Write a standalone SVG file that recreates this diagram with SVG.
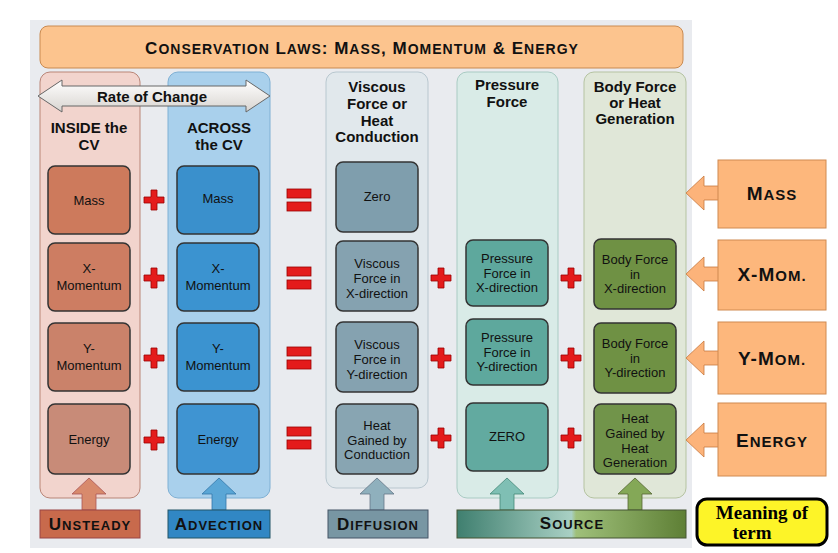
<svg xmlns="http://www.w3.org/2000/svg" width="838" height="553" viewBox="0 0 838 553">
<defs>
<style>
text{font-family:"Liberation Sans",Arial,sans-serif;text-anchor:middle}
.h{font-weight:bold;font-size:15px;fill:#111}
.b{font-size:13px;fill:#111}
.bx{stroke:#333;stroke-width:1.5}
.cap{font-weight:bold;fill:#111;letter-spacing:1px}
.mt{font-family:"Liberation Serif","Times New Roman",serif;font-weight:bold;font-size:19px}
</style>
<linearGradient id="src" x1="0" x2="1"><stop offset="0" stop-color="#3f7f6f"/><stop offset="0.5" stop-color="#a9d0c4"/><stop offset="0.52" stop-color="#9fc07a"/><stop offset="1" stop-color="#5e7f35"/></linearGradient>
<linearGradient id="roc" x1="0" y1="0" x2="0" y2="1"><stop offset="0" stop-color="#fff"/><stop offset="1" stop-color="#d8d4d0"/></linearGradient>
<path id="plus" d="M-3,-10h6v7h7v6h-7v7h-6v-7h-7v-6h7z"/>
<g id="eq"><rect x="-12" y="-11" width="24" height="9" fill="#e41b1b" stroke="#900"/><rect x="-12" y="2" width="24" height="9" fill="#e41b1b" stroke="#900"/></g>
<path id="up" d="M0,0 L17,16 L7,16 L7,32 L-7,32 L-7,16 L-17,16 Z"/>
<path id="left" d="M0,0 L18,-17 V-7 H34 V7 H18 V17 Z" fill="#fcb37a" stroke="#c87a40"/>
</defs>
<rect x="30" y="20" width="662" height="528" fill="#e9ebef"/>
<g id="title"><rect x="40" y="26" width="643" height="42" rx="8" fill="#fcc48e" stroke="#c98a50"/>
<text x="362" y="54" class="cap" font-size="17">C<tspan font-size="14">ONSERVATION</tspan> L<tspan font-size="14">AWS</tspan>: M<tspan font-size="14">ASS</tspan>, M<tspan font-size="14">OMENTUM</tspan> &amp; E<tspan font-size="14">NERGY</tspan></text></g>
<g id="columns">
<rect x="40" y="72" width="100" height="426" rx="10" fill="#f2d4cd" stroke="#b98577"/>
<rect x="168" y="72" width="102" height="426" rx="10" fill="#a9d0ec" stroke="#7fb0d4"/>
<rect x="326" y="72" width="102" height="416" rx="10" fill="#e1e8ec" stroke="#b8c7cf"/>
<rect x="457" y="72" width="101" height="426" rx="10" fill="#d9ebe7" stroke="#a9cbc3"/>
<rect x="584" y="72" width="102" height="426" rx="10" fill="#e0e7d8" stroke="#b5c3a1"/>
</g>
<g id="rate"><path d="M38,96 L62,80 L62,86 L246,86 L246,80 L270,96 L246,112 L246,106 L62,106 L62,112 Z" fill="url(#roc)" stroke="#666"/>
<text x="152" y="102" class="h" font-size="16">Rate of Change</text></g>
<g id="headers">
<text class="h" x="89" y="133">INSIDE the</text><text class="h" x="89" y="150">CV</text>
<text class="h" x="219" y="133">ACROSS</text><text class="h" x="219" y="150">the CV</text>
<text class="h" x="377" y="92">Viscous</text><text class="h" x="377" y="109">Force or</text><text class="h" x="377" y="126">Heat</text><text class="h" x="377" y="142">Conduction</text>
<text class="h" x="507" y="90">Pressure</text><text class="h" x="507" y="107">Force</text>
<text class="h" x="635" y="92">Body Force</text><text class="h" x="635" y="108">or Heat</text><text class="h" x="635" y="124">Generation</text>
</g>
<g id="boxes">
<rect class="bx" x="48" y="166" width="82" height="68" rx="7" fill="#cd7a5c"/><text class="b" x="89" y="205">Mass</text>
<rect class="bx" x="48" y="243" width="82" height="68" rx="7" fill="#cd7d62"/><text class="b" x="89" y="273">X-</text><text class="b" x="89" y="290">Momentum</text>
<rect class="bx" x="48" y="323" width="82" height="68" rx="7" fill="#ca826a"/><text class="b" x="89" y="353">Y-</text><text class="b" x="89" y="370">Momentum</text>
<rect class="bx" x="48" y="404" width="82" height="70" rx="7" fill="#c88b78"/><text class="b" x="89" y="444">Energy</text>
<rect class="bx" x="177" y="166" width="82" height="68" rx="7" fill="#3a90cc"/><text class="b" x="218" y="203">Mass</text>
<rect class="bx" x="177" y="243" width="82" height="68" rx="7" fill="#3b93d0"/><text class="b" x="218" y="273">X-</text><text class="b" x="218" y="290">Momentum</text>
<rect class="bx" x="177" y="323" width="82" height="68" rx="7" fill="#3b93d0"/><text class="b" x="218" y="353">Y-</text><text class="b" x="218" y="370">Momentum</text>
<rect class="bx" x="177" y="404" width="82" height="70" rx="7" fill="#3f94d2"/><text class="b" x="218" y="444">Energy</text>
<rect class="bx" x="336" y="162" width="82" height="70" rx="7" fill="#7f9ead"/><text class="b" x="377" y="201">Zero</text>
<rect class="bx" x="336" y="241" width="82" height="70" rx="7" fill="#85a2b0"/><text class="b" x="377" y="268">Viscous</text><text class="b" x="377" y="283">Force in</text><text class="b" x="377" y="298">X-direction</text>
<rect class="bx" x="336" y="322" width="82" height="70" rx="7" fill="#85a2b0"/><text class="b" x="377" y="349">Viscous</text><text class="b" x="377" y="364">Force in</text><text class="b" x="377" y="379">Y-direction</text>
<rect class="bx" x="336" y="404" width="82" height="70" rx="7" fill="#88a5b2"/><text class="b" x="377" y="430">Heat</text><text class="b" x="377" y="445">Gained by</text><text class="b" x="377" y="459">Conduction</text>
<rect class="bx" x="466" y="240" width="82" height="66" rx="7" fill="#5ea89d"/><text class="b" x="507" y="263">Pressure</text><text class="b" x="507" y="278">Force in</text><text class="b" x="507" y="292">X-direction</text>
<rect class="bx" x="466" y="319" width="82" height="66" rx="7" fill="#5ea89d"/><text class="b" x="507" y="342">Pressure</text><text class="b" x="507" y="357">Force in</text><text class="b" x="507" y="371">Y-direction</text>
<rect class="bx" x="466" y="403" width="82" height="68" rx="7" fill="#62aaa0"/><text class="b" x="507" y="441">ZERO</text>
<rect class="bx" x="594" y="239" width="82" height="70" rx="7" fill="#6f9144"/><text class="b" x="635" y="264">Body Force</text><text class="b" x="635" y="279">in</text><text class="b" x="635" y="293">X-direction</text>
<rect class="bx" x="594" y="323" width="82" height="70" rx="7" fill="#6f9144"/><text class="b" x="635" y="348">Body Force</text><text class="b" x="635" y="363">in</text><text class="b" x="635" y="377">Y-direction</text>
<rect class="bx" x="594" y="404" width="82" height="70" rx="7" fill="#71944a"/><text class="b" x="635" y="423">Heat</text><text class="b" x="635" y="438">Gained by</text><text class="b" x="635" y="453">Heat</text><text class="b" x="635" y="467">Generation</text>
</g>
<g id="signs" fill="#e41b1b" stroke="#900" stroke-width="0.8">
<use href="#plus" x="154" y="200"/><use href="#plus" x="154" y="278"/><use href="#plus" x="154" y="358"/><use href="#plus" x="154" y="440"/>
<use href="#eq" x="299" y="200"/><use href="#eq" x="299" y="278"/><use href="#eq" x="299" y="358"/><use href="#eq" x="299" y="438"/>
<use href="#plus" x="441" y="278"/><use href="#plus" x="441" y="358"/><use href="#plus" x="441" y="438"/>
<use href="#plus" x="571" y="278"/><use href="#plus" x="571" y="358"/><use href="#plus" x="571" y="438"/>
</g>
<g id="connectors" stroke-width="0.8">
<use href="#up" x="89" y="478" fill="#d88a6c" stroke="#a55"/>
<use href="#up" x="219" y="478" fill="#5aa6d6" stroke="#37a"/>
<use href="#up" x="377" y="478" fill="#8fb0bd" stroke="#678"/>
<use href="#up" x="507" y="478" fill="#7fbfb4" stroke="#487"/>
<use href="#up" x="635" y="478" fill="#84a857" stroke="#563"/>
<use href="#left" x="686" y="193"/>
<use href="#left" x="686" y="274"/>
<use href="#left" x="686" y="358"/>
<use href="#left" x="686" y="440"/>
</g>
<g id="bottom">
<rect x="40" y="510" width="100" height="28" fill="#c86a4c" stroke="#944"/><text class="cap" x="90" y="530" font-size="17">U<tspan font-size="13">NSTEADY</tspan></text>
<rect x="168" y="510" width="102" height="28" fill="#3187c4" stroke="#256"/><text class="cap" x="219" y="530" font-size="17">A<tspan font-size="13">DVECTION</tspan></text>
<rect x="328" y="510" width="100" height="28" fill="#7896a3" stroke="#456"/><text class="cap" x="378" y="530" font-size="17">D<tspan font-size="13">IFFUSION</tspan></text>
<rect x="457" y="510" width="229" height="28" fill="url(#src)" stroke="#453"/><text class="cap" x="572" y="529" font-size="17" letter-spacing="4">S<tspan font-size="13">OURCE</tspan></text>
</g>
<g id="meaning">
<rect x="718" y="160" width="108" height="68" fill="#fdb77c" stroke="#d08a50"/><text class="cap" x="772" y="200" font-size="19">M<tspan font-size="15">ASS</tspan></text>
<rect x="718" y="240" width="108" height="70" fill="#fdb77c" stroke="#d08a50"/><text class="cap" x="772" y="281" font-size="19">X-M<tspan font-size="15">OM.</tspan></text>
<rect x="718" y="322" width="108" height="72" fill="#fdb77c" stroke="#d08a50"/><text class="cap" x="772" y="365" font-size="19">Y-M<tspan font-size="15">OM.</tspan></text>
<rect x="718" y="403" width="108" height="73" fill="#fdb77c" stroke="#d08a50"/><text class="cap" x="772" y="447" font-size="19">E<tspan font-size="15">NERGY</tspan></text>
<rect x="697" y="499" width="130" height="46" rx="10" fill="#fdf428" stroke="#000" stroke-width="3"/>
<text class="mt" x="762" y="519">Meaning of</text>
<text class="mt" x="752" y="539">term</text>
</g>
</svg>
